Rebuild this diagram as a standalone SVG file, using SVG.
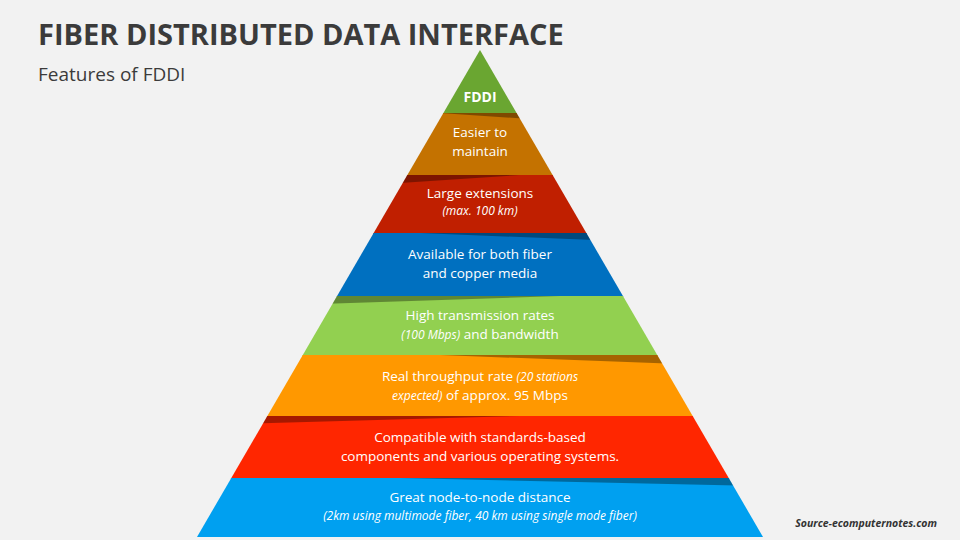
<svg xmlns="http://www.w3.org/2000/svg" width="960" height="540" viewBox="0 0 960 540">
<style>
text{font-family:"Open Sans","Liberation Sans",sans-serif;fill:#fff;text-anchor:middle;font-size:13.5px}
.i{font-style:italic;font-size:12px}
.sh{fill:#000;opacity:.35}
</style>
<defs><clipPath id="tri"><polygon points="480,50 197,537 763,537"/></clipPath></defs>
<rect width="960" height="540" fill="#f2f2f2"/>
<text x="38" y="45" style="font-size:29px;font-weight:bold;fill:#3b3b3b;text-anchor:start;font-family:'Open Sans','Liberation Sans',sans-serif">FIBER DISTRIBUTED DATA INTERFACE</text>
<text x="38" y="81" style="font-size:19px;fill:#3b3b3b;text-anchor:start">Features of FDDI</text>
<g clip-path="url(#tri)">
<g id="l1"><rect x="190" y="40" width="580" height="74" fill="#6aa631"/><text x="480" y="102" style="font-weight:bold;font-size:14px">FDDI</text></g>
<g id="l2"><rect x="190" y="113" width="580" height="63" fill="#c47200"/><polygon class="sh" points="440,113 560,113 560,121"/><text x="480" y="137">Easier to</text><text x="480" y="156">maintain</text></g>
<g id="l3"><rect x="190" y="175" width="580" height="59" fill="#c01f00"/><polygon class="sh" points="400,175 520,175 400,183"/><text x="480" y="198">Large extensions</text><text class="i" x="480" y="215">(max. 100 km)</text></g>
<g id="l4"><rect x="190" y="233" width="580" height="64" fill="#0070c0"/><polygon class="sh" points="420,233 640,233 640,242"/><text x="480" y="259">Available for both fiber</text><text x="480" y="278">and copper media</text></g>
<g id="l5"><rect x="190" y="296" width="580" height="60" fill="#92d050"/><polygon class="sh" points="320,296 560,296 320,304"/><text x="480" y="320">High transmission rates</text><text x="480" y="339"><tspan class="i">(100 Mbps)</tspan> and bandwidth</text></g>
<g id="l6"><rect x="190" y="355" width="580" height="62" fill="#ff9800"/><polygon class="sh" points="440,355 680,355 680,364"/><text x="480" y="381">Real throughput rate <tspan class="i">(20 stations</tspan></text><text x="480" y="400"><tspan class="i">expected)</tspan> of approx. 95 Mbps</text></g>
<g id="l7"><rect x="190" y="416" width="580" height="63" fill="#ff2600"/><polygon class="sh" points="240,416 520,416 240,424"/><text x="480" y="442">Compatible with standards-based</text><text x="480" y="461">components and various operating systems.</text></g>
<g id="l8"><rect x="190" y="478" width="580" height="62" fill="#00a0f0"/><polygon class="sh" points="400,478 760,478 760,486"/><text x="480" y="502">Great node-to-node distance</text><text class="i" x="480" y="520">(2km using multimode fiber, 40 km using single mode fiber)</text></g>
</g>
<text x="937" y="527" style="font-size:10.5px;font-style:italic;font-weight:bold;fill:#333;text-anchor:end">Source-ecomputernotes.com</text>
</svg>
